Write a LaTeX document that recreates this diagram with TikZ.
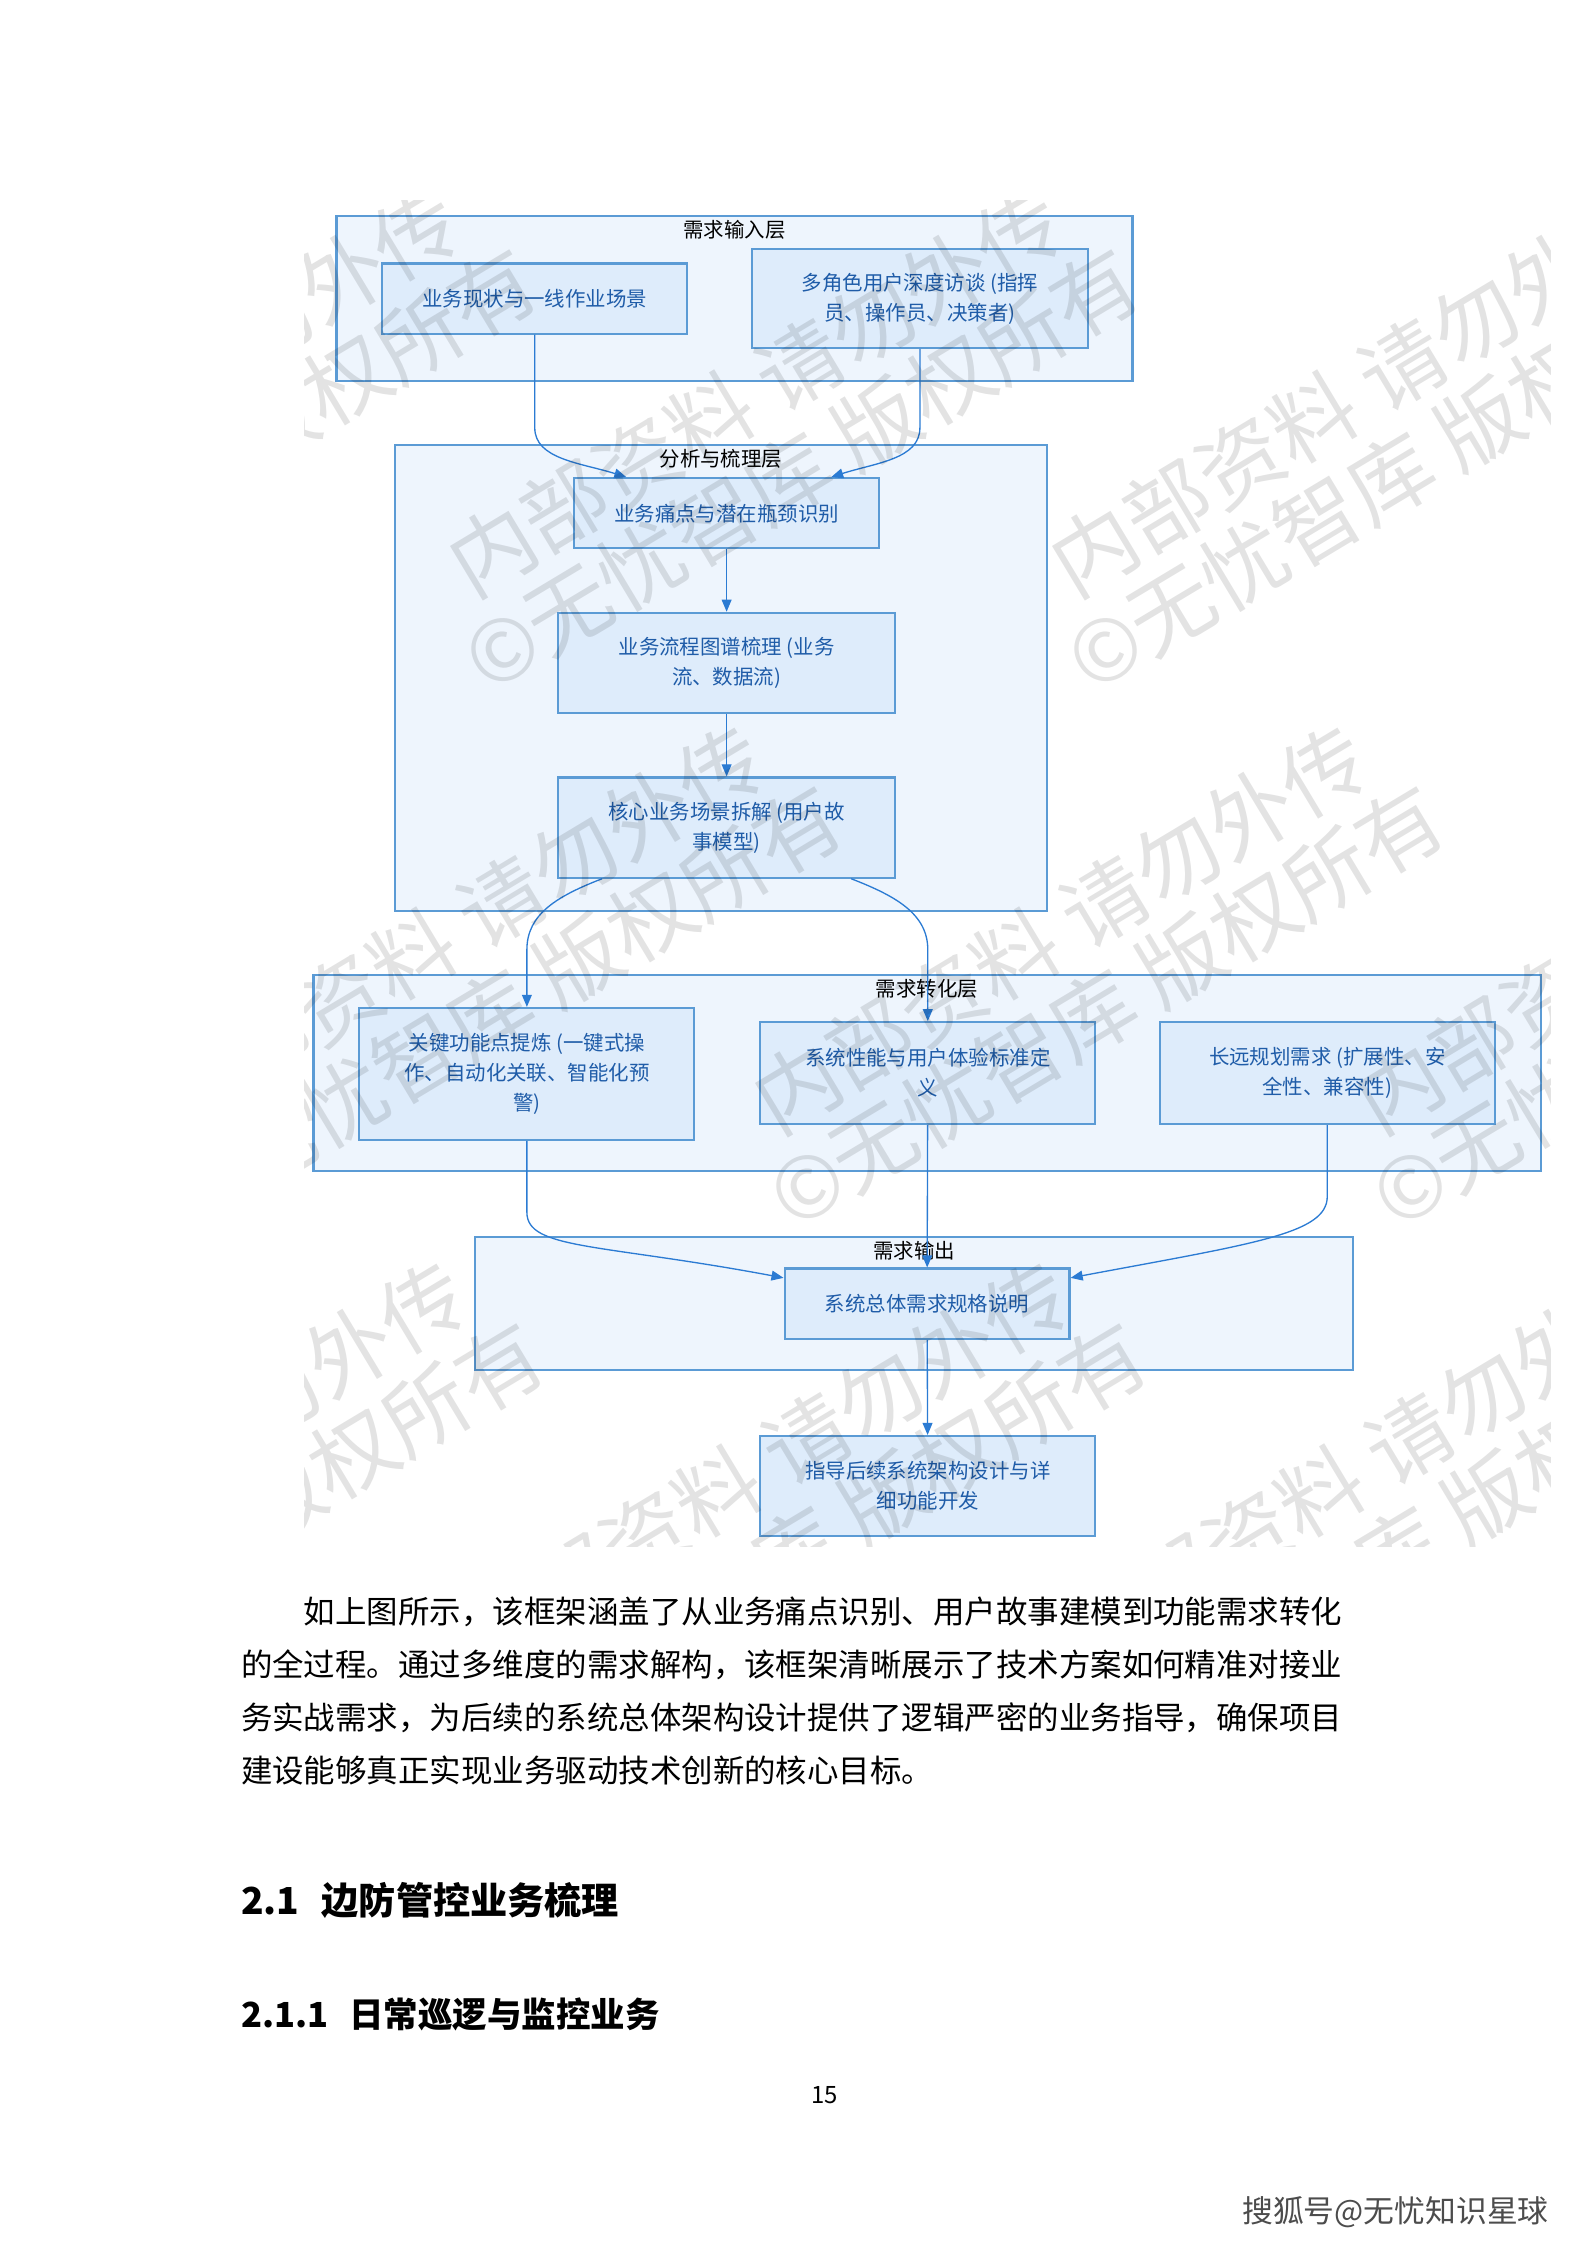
\documentclass[tikz,border=0pt]{standalone}
\usepackage{fontspec}
\setmainfont{Noto Sans CJK SC}
\usetikzlibrary{arrows.meta, positioning, fit, calc}
\newcommand{\pxu}{0.18953mm}
\definecolor{edgeblue}{HTML}{5B9BD5}
\definecolor{layerfill}{HTML}{EEF5FD}
\definecolor{boxfill}{HTML}{DEECFB}
\definecolor{boxtext}{HTML}{1F5CA8}
\definecolor{arrowblue}{HTML}{2B7BD3}
\tikzset{
  layer/.style={rectangle, draw=edgeblue, fill=layerfill, line width=0.8pt,
    inner sep=0pt},
  ttl/.style={font=\fontsize{7.7}{10}\selectfont, text=black, inner sep=0pt},
  box/.style={rectangle, draw=edgeblue, fill=boxfill, line width=0.8pt,
    inner sep=0pt, align=center, text=boxtext,
    font=\fontsize{7.7}{11.3}\selectfont},
  size/.style 2 args={minimum width=#1*\pxu, minimum height=#2*\pxu},
  arr/.style={-{Triangle[length=1.6mm,width=1.3mm]}, draw=arrowblue,
    line width=0.5pt},
  body/.style={font=\fontsize{11.85}{20}\selectfont, inner sep=0pt, align=left,
    anchor=west},
  head/.style={font=\bfseries\fontsize{14}{16}\selectfont, inner sep=0pt,
    anchor=west},
  wmark/.style={font=\fontsize{32}{34}\selectfont, text=black,
    text opacity=0.11, align=center, rotate=31, inner sep=0pt}
}

\begin{document}
\begin{tikzpicture}[x=\pxu, y=\pxu]
  \useasboundingbox[fill=white] (0,0) rectangle (1108,-1568);

  % layers
  \node[layer, fit={(235,-151) (791,-266)}] (inLayer) {};
  \node[ttl, below=0.6mm of inLayer.north] (inTtl) {需求输入层};
  \node[layer, fit={(276,-311) (731,-636)}] (anLayer) {};
  \node[ttl, below=0.6mm of anLayer.north] (anTtl) {分析与梳理层};
  \node[layer, fit={(219,-681) (1076,-818)}] (cvLayer) {};
  \node[ttl, below=0.6mm of cvLayer.north] (cvTtl) {需求转化层};
  \node[layer, fit={(332,-864) (945,-957)}] (outLayer) {};
  \node[ttl, below=0.6mm of outLayer.north] (outTtl) {需求输出};

  % boxes
  \node[box, size={213}{49}] (scene) at (373.5,-208.5) {业务现状与一线作业场景};
  \node[box, size={235}{69}] (interview) at (642.5,-208.5)
    {多角色用户深度访谈 (指挥\\员、操作员、决策者)};
  \node[box, size={213}{49}] (pain) at (507.5,-358.5) {业务痛点与潜在瓶颈识别};
  \node[box, size={235}{70}] (flow) at (507.5,-463)
    {业务流程图谱梳理 (业务\\流、数据流)};
  \node[box, size={235}{70}] (story) at (507.5,-578)
    {核心业务场景拆解 (用户故\\事模型)};
  \node[box, size={234}{92}] (key) at (368,-750)
    {关键功能点提炼 (一键式操\\作、自动化关联、智能化预\\警)};
  \node[box, size={234}{71}] (perf) at (648,-749.5)
    {系统性能与用户体验标准定\\义};
  \node[box, size={234}{71}] (future) at (927,-749.5)
    {长远规划需求 (扩展性、安\\全性、兼容性)};
  \node[box, size={199}{49}] (spec) at (647.5,-910.5) {系统总体需求规格说明};
  \node[box, size={234}{70}] (guide) at (648,-1038)
    {指导后续系统架构设计与详\\细功能开发};

  % connectors
  \draw[arr] (scene.south) -- ++(0,-65) .. controls +(0,-22) and +(-32,10) .. ($(pain.north)+(-70,0)$);
  \draw[arr] (interview.south) -- ++(0,-55) .. controls +(0,-22) and +(31,10) .. ($(pain.north)+(73,0)$);
  \draw[arr] (pain) -- (flow);
  \draw[arr] (flow) -- (story);
  \draw[arr] ($(story.south)+(-87,0)$) .. controls +(-31,-12) and +(0,25) .. ($(key.north)+(0,40)$) -- (key.north);
  \draw[arr] ($(story.south)+(87,0)$) .. controls +(31,-12) and +(0,25) .. ($(perf.north)+(0,50)$) -- (perf.north);
  \draw[arr] (key.south) -- ++(0,-50) .. controls +(0,-26) and +(-128,24) .. ($(spec.west)+(0,18)$);
  \draw[arr] (perf) -- (spec);
  \draw[arr] (future.south) -- ++(0,-50) .. controls +(0,-26) and +(128,24) .. ($(spec.east)+(0,18)$);
  \draw[arr] (spec) -- (guide);

  % watermark over the figure
  \begin{scope}
    \clip (213,-140) rectangle (1083,-1080);
    \foreach \i in {-2,...,2}{
      \foreach \j in {-1,...,2}{
        \node[wmark] (wm\i\j) at ({543.5+421*\i+213*\j},{-300.6-375*\j})
          {内部资料 请勿外传\\©无忧智库 版权所有};
      }
    }
  \end{scope}

  % page text
  \node[body] (para) at (168,-1181)
    {\hspace*{2em}如上图所示，该框架涵盖了从业务痛点识别、用户故事建模到功能需求转化\\
     的全过程。通过多维度的需求解构，该框架清晰展示了技术方案如何精准对接业\\
     务实战需求，为后续的系统总体架构设计提供了逻辑严密的业务指导，确保项目\\
     建设能够真正实现业务驱动技术创新的核心目标。};
  \node[head] (sec) at (168,-1327) {2.1\hspace{0.6em}边防管控业务梳理};
  \node[head, font=\bfseries\fontsize{13}{15}\selectfont] (subsec) at (168,-1407)
    {2.1.1\hspace{0.6em}日常巡逻与监控业务};
  \node[font=\fontsize{9}{10}\selectfont, inner sep=0pt] (pnum) at (576,-1463) {15};
  \node[font=\fontsize{11.6}{13}\selectfont, text=black!70, inner sep=0pt,
    anchor=east] (sohu) at (1082,-1545) {搜狐号@无忧知识星球};
\end{tikzpicture}
\end{document}
